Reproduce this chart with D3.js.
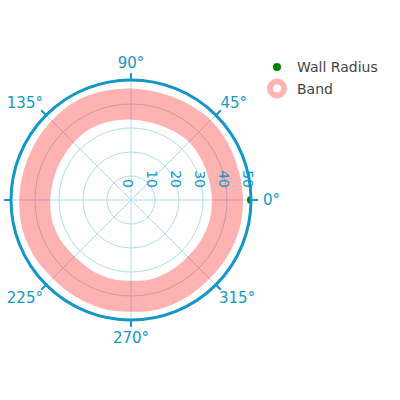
<!DOCTYPE html>
<html>
<head>
<meta charset="utf-8">
<script src="https://cdn.jsdelivr.net/npm/d3@7"></script>
<style>
  body { margin: 0; background: #fff; }
  text { font-family: "DejaVu Sans", Verdana, sans-serif; }
</style>
</head>
<body>
<div id="chart"></div>
<script>
// wall marker
var wall_theta = [0];
var wall_r = [50];

// band centre line
var band_theta = [0, 15, 30, 45, 60, 75, 90, 105, 120, 135, 150, 165,
                  180, 195, 210, 225, 240, 255, 270, 285, 300, 315, 330, 345];
var band_r = [40.2, 40.0, 40.3, 40.6, 40.1, 39.8, 40.0, 40.4, 40.7, 40.3, 40.0, 39.9,
              40.1, 40.4, 40.2, 39.7, 40.0, 40.3, 40.1, 40.5, 40.2, 39.9, 40.1, 40.3];

var radial_ticks = [0, 10, 20, 30, 40, 50];
var angular_ticks = [0, 45, 90, 135, 180, 225, 270, 315];
var legend_names = ["Wall Radius", "Band"];

var width = 400, height = 400;
var cx = 131, cy = 200, outer = 120;
var axis_color = "rgb(20,150,200)";
var grid_color = "#b0dbe9";

var svg = d3.select("#chart").append("svg")
  .attr("width", width)
  .attr("height", height);

var r = d3.scaleLinear().domain([0, 50]).range([0, outer]);
var rad = function(deg) { return deg * Math.PI / 180; };

var g = svg.append("g").attr("transform", "translate(" + cx + "," + cy + ")");

svg.append("clipPath").attr("id", "polar-clip")
  .append("circle").attr("r", outer);

// radial grid circles
g.selectAll(".rgrid")
  .data(radial_ticks.filter(function(d) { return d > 0 && d < 50; }))
  .enter().append("circle")
  .attr("class", "rgrid")
  .attr("r", function(d) { return r(d); })
  .attr("fill", "none")
  .attr("stroke", grid_color)
  .attr("stroke-width", 1);

// angular grid lines
g.selectAll(".agrid")
  .data(angular_ticks)
  .enter().append("line")
  .attr("class", "agrid")
  .attr("x1", 0).attr("y1", 0)
  .attr("x2", function(d) { return outer * Math.cos(rad(d)); })
  .attr("y2", function(d) { return -outer * Math.sin(rad(d)); })
  .attr("stroke", grid_color)
  .attr("stroke-width", 1);

// data layer
var data_g = g.append("g").attr("clip-path", "url(#polar-clip)");

var band_pts = band_theta.map(function(t, i) { return [rad(90 - t), r(band_r[i])]; });
var band_line = d3.lineRadial()
  .angle(function(d) { return d[0]; })
  .radius(function(d) { return d[1]; })
  .curve(d3.curveCardinalClosed);

data_g.append("g")
  .attr("opacity", 0.3)
  .append("path")
  .attr("d", band_line(band_pts))
  .attr("fill", "none")
  .attr("stroke", "red")
  .attr("stroke-width", 31)
  .attr("stroke-linejoin", "round");

data_g.selectAll(".wall")
  .data(wall_theta)
  .enter().append("circle")
  .attr("class", "wall")
  .attr("cx", function(d, i) { return r(wall_r[i]) * Math.cos(rad(d)); })
  .attr("cy", function(d, i) { return -r(wall_r[i]) * Math.sin(rad(d)); })
  .attr("r", 4)
  .attr("fill", "green");

// radial tick labels (rotated)
g.selectAll(".rlabel")
  .data(radial_ticks)
  .enter().append("text")
  .attr("class", "rlabel")
  .attr("transform", function(d) { return "translate(" + (r(d) - 8) + ",-12) rotate(90)"; })
  .attr("text-anchor", "end")
  .attr("font-size", "14px")
  .attr("fill", axis_color)
  .text(function(d) { return d; });

// outer angular axis line
g.append("circle")
  .attr("r", outer)
  .attr("fill", "none")
  .attr("stroke", axis_color)
  .attr("stroke-width", 3);

// ticks
g.selectAll(".atick")
  .data(angular_ticks)
  .enter().append("line")
  .attr("class", "atick")
  .attr("x1", function(d) { return (outer + 1) * Math.cos(rad(d)); })
  .attr("y1", function(d) { return -(outer + 1) * Math.sin(rad(d)); })
  .attr("x2", function(d) { return (outer + 7) * Math.cos(rad(d)); })
  .attr("y2", function(d) { return -(outer + 7) * Math.sin(rad(d)); })
  .attr("stroke", axis_color)
  .attr("stroke-width", 2);

// angular tick labels, pushed out by half their box; 180 falls off the page
var alabels = g.selectAll(".alabel")
  .data(angular_ticks.filter(function(d) { return d !== 180; }))
  .enter().append("text")
  .attr("class", "alabel")
  .attr("text-anchor", "middle")
  .attr("dy", "0.36em")
  .attr("font-size", "15px")
  .attr("fill", axis_color)
  .text(function(d) { return d + "\u00b0"; });

alabels.each(function(d) {
  var w = this.getComputedTextLength();
  var lr = 132;
  var x = lr * Math.cos(rad(d)) + Math.cos(rad(d)) * w / 2;
  var y = -lr * Math.sin(rad(d)) - Math.sin(rad(d)) * 5.5;
  d3.select(this).attr("x", x).attr("y", y);
});

// legend
var legend = svg.append("g").attr("transform", "translate(277,67)");
var items = legend.selectAll(".item")
  .data(legend_names)
  .enter().append("g")
  .attr("class", "item")
  .attr("transform", function(d, i) { return "translate(0," + (i * 21.5) + ")"; });

items.filter(function(d, i) { return i === 0; })
  .append("circle")
  .attr("r", 4)
  .attr("fill", "green");

items.filter(function(d, i) { return i === 1; })
  .append("circle")
  .attr("r", 7)
  .attr("fill", "none")
  .attr("stroke", "#ffb3b3")
  .attr("stroke-width", 6);

items.append("text")
  .attr("x", 20)
  .attr("y", 5)
  .attr("font-size", "14px")
  .attr("fill", "#444")
  .text(function(d) { return d; });
</script>
</body>
</html>
